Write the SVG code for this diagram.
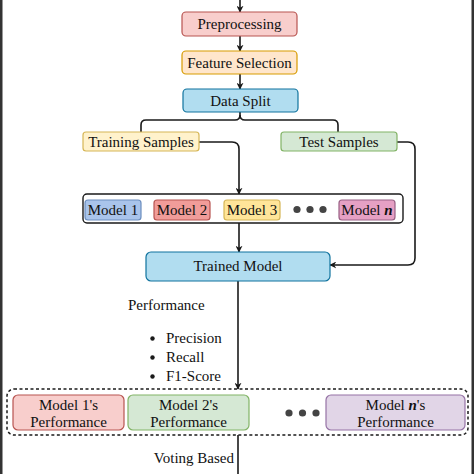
<svg xmlns="http://www.w3.org/2000/svg" width="474" height="474" viewBox="0 0 474 474">
<style>
.t{font-family:"Liberation Serif","Times New Roman",serif;font-size:15px;fill:#111;text-anchor:middle}
.s{font-family:"Liberation Serif","Times New Roman",serif;font-size:15px;fill:#111}
.c{fill:none;stroke:#1a1a1a;stroke-width:1.6}
.box{stroke-width:1.2}
</style>
<defs>
<marker id="ar" viewBox="0 0 10 10" refX="9" refY="5" markerWidth="7" markerHeight="7" markerUnits="userSpaceOnUse" orient="auto">
<path d="M0,0 L10,5 L0,10 L3,5 z" fill="#1a1a1a"/>
</marker>
</defs>
<rect width="474" height="474" fill="#fff"/>
<rect x="0" y="0" width="2.5" height="474" fill="#333"/>
<rect x="471.5" y="0" width="2.5" height="474" fill="#333"/>

<g id="connectors">
<path class="c" d="M240,0 V12" marker-end="url(#ar)"/>
<path class="c" d="M240,36 V51" marker-end="url(#ar)"/>
<path class="c" d="M240,74 V89" marker-end="url(#ar)"/>
<path class="c" d="M240,112 V115 Q240,120 235,120 H146 Q141,120 141,125 V132"/>
<path class="c" d="M240,115 Q240,120 245,120 H333 Q338,120 338,125 V132"/>
<path class="c" d="M199,142 H232 Q239,142 239,149 V194" marker-end="url(#ar)"/>
<path class="c" d="M397,142 H408 Q415,142 415,149 V258 Q415,265 408,265 H330" marker-end="url(#ar)"/>
<path class="c" d="M239,223 V252" marker-end="url(#ar)"/>
<path class="c" d="M238,281 V389" marker-end="url(#ar)"/>
<path class="c" d="M238,435 V474"/>
</g>

<g id="preprocessing">
<rect class="box" x="182" y="12" width="115" height="24" rx="4" fill="#f8cecc" stroke="#b85450"/>
<text class="t" x="239.5" y="29">Preprocessing</text>
</g>
<g id="feature-selection">
<rect class="box" x="182" y="51" width="115" height="23" rx="4" fill="#ffe6cc" stroke="#d79b00"/>
<text class="t" x="239.5" y="67.5">Feature Selection</text>
</g>
<g id="data-split">
<rect class="box" x="183" y="89" width="115" height="23" rx="4" fill="#b1ddf0" stroke="#10739e"/>
<text class="t" x="240.5" y="105.5">Data Split</text>
</g>
<g id="training-samples">
<rect class="box" x="83" y="132" width="116" height="19" rx="3" fill="#fff2cc" stroke="#d6b656"/>
<text class="t" x="141" y="146.5">Training Samples</text>
</g>
<g id="test-samples">
<rect class="box" x="281" y="132" width="116" height="19" rx="3" fill="#d5e8d4" stroke="#82b366"/>
<text class="t" x="339" y="146.5">Test Samples</text>
</g>

<g id="models">
<rect x="83" y="194" width="320" height="29" rx="4" fill="#fff" stroke="#1a1a1a" stroke-width="1.4"/>
<g id="model-1">
<rect class="box" x="85" y="200" width="56" height="20" rx="3" fill="#a9c4eb" stroke="#6c8ebf"/>
<text class="t" x="113" y="215">Model 1</text>
</g>
<g id="model-2">
<rect class="box" x="154" y="200" width="56" height="20" rx="3" fill="#f19c99" stroke="#b85450"/>
<text class="t" x="182" y="215">Model 2</text>
</g>
<g id="model-3">
<rect class="box" x="224" y="200" width="56" height="20" rx="3" fill="#ffe599" stroke="#d6b656"/>
<text class="t" x="252" y="215">Model 3</text>
</g>
<g fill="#444">
<circle cx="297" cy="209.5" r="3.6"/>
<circle cx="310" cy="209.5" r="3.6"/>
<circle cx="323" cy="209.5" r="3.6"/>
</g>
<g id="model-n">
<rect class="box" x="339" y="200" width="56" height="20" rx="3" fill="#e6a0c4" stroke="#996185"/>
<text class="t" x="367" y="215">Model <tspan font-style="italic" font-weight="bold">n</tspan></text>
</g>
</g>

<g id="trained-model">
<rect class="box" x="146" y="252" width="184" height="29" rx="5" fill="#b1ddf0" stroke="#10739e"/>
<text class="t" x="238" y="271">Trained Model</text>
</g>

<g id="performance-label">
<text class="s" x="128" y="310">Performance</text>
<circle cx="152.5" cy="338.5" r="2.2" fill="#1a1a1a"/>
<circle cx="152.5" cy="357.5" r="2.2" fill="#1a1a1a"/>
<circle cx="152.5" cy="376.5" r="2.2" fill="#1a1a1a"/>
<text class="s" x="166" y="343">Precision</text>
<text class="s" x="166" y="362">Recall</text>
<text class="s" x="166" y="381">F1-Score</text>
</g>

<g id="performances">
<rect x="7" y="389" width="461" height="46" rx="7" fill="none" stroke="#1a1a1a" stroke-width="1.5" stroke-dasharray="3,2.5"/>
<g id="perf-1">
<rect class="box" x="13" y="395" width="111" height="35" rx="5" fill="#f8cecc" stroke="#b85450"/>
<text class="t" x="68.5" y="410">Model 1's</text>
<text class="t" x="68.5" y="427">Performance</text>
</g>
<g id="perf-2">
<rect class="box" x="128" y="395" width="121" height="35" rx="5" fill="#d5e8d4" stroke="#82b366"/>
<text class="t" x="188.5" y="410">Model 2's</text>
<text class="t" x="188.5" y="427">Performance</text>
</g>
<g fill="#444">
<circle cx="289" cy="413" r="3.6"/>
<circle cx="302.5" cy="413" r="3.6"/>
<circle cx="316" cy="413" r="3.6"/>
</g>
<g id="perf-n">
<rect class="box" x="326" y="395" width="139" height="35" rx="5" fill="#e1d5e7" stroke="#9673a6"/>
<text class="t" x="395.5" y="410">Model <tspan font-style="italic" font-weight="bold">n</tspan>'s</text>
<text class="t" x="395.5" y="427">Performance</text>
</g>
</g>

<text class="s" x="234" y="463" text-anchor="end">Voting Based</text>
</svg>
